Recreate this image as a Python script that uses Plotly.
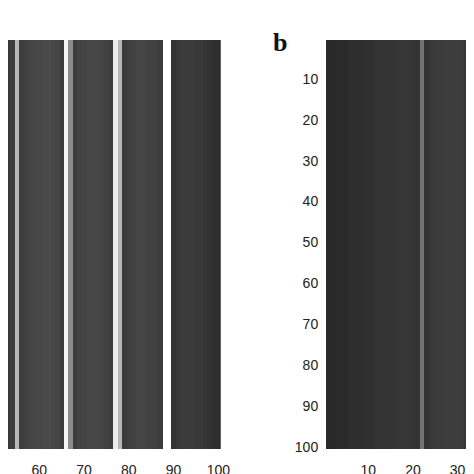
import plotly.graph_objects as go

# panel a: column brightness for columns 53..100 (rows identical)
a_cols = list(range(53, 101))
a_vals = [0.22, 0.24, 0.72, 0.24, 0.26, 0.27, 0.28, 0.28, 0.29, 0.29, 0.28, 0.27, 0.24,
          0.96, 0.55, 0.24, 0.26, 0.27, 0.28, 0.28, 0.28, 0.27, 0.26, 0.24,
          0.93, 0.72, 0.23, 0.25, 0.26, 0.27, 0.27, 0.26, 0.26, 0.25, 0.23,
          1.0, 1.0, 0.2, 0.22, 0.23, 0.23, 0.23, 0.22, 0.22, 0.21, 0.2, 0.19, 0.18]
# panel b: columns 1..35
b_cols = list(range(1, 36))
b_vals = [0.16, 0.16, 0.17, 0.17, 0.17, 0.18, 0.18, 0.18, 0.19, 0.19, 0.19, 0.2, 0.2,
          0.2, 0.2, 0.21, 0.21, 0.21, 0.21, 0.21, 0.2, 0.45, 0.2, 0.22, 0.23, 0.23,
          0.24, 0.24, 0.24, 0.24, 0.23, 0.22, 0.5, 0.22, 0.22]
rows = list(range(1, 101))
xticks_a = [60, 70, 80, 90, 100]
xticks_b = [10, 20, 30]
yticks_b = [10, 20, 30, 40, 50, 60, 70, 80, 90, 100]

cs = [[0, "black"], [1, "white"]]
fig = go.Figure()
fig.add_trace(go.Heatmap(x=a_cols, y=rows, z=[a_vals for _ in rows], colorscale=cs,
                         zmin=0, zmax=1, showscale=False, xaxis="x", yaxis="y"))
fig.add_trace(go.Heatmap(x=b_cols, y=rows, z=[b_vals for _ in rows], colorscale=cs,
                         zmin=0, zmax=1, showscale=False, xaxis="x2", yaxis="y2"))
font = dict(family="Liberation Sans, Arial", size=14, color="#222")
ydom = [1 - 441 / 474, 1 - 32 / 474]
fig.update_layout(
    width=474, height=474, margin=dict(l=0, r=0, t=0, b=0, autoexpand=False),
    paper_bgcolor="white", plot_bgcolor="white", font=font,
    xaxis=dict(domain=[0, 213 / 474], range=[53, 100.6], tickvals=xticks_a,
               showgrid=False, zeroline=False, ticks="outside", ticklen=8,
               tickcolor="white"),
    yaxis=dict(domain=ydom, range=[100.5, 0.5], showticklabels=False,
               showgrid=False, zeroline=False),
    xaxis2=dict(domain=[318 / 474, 1], range=[0.5, 35.5], tickvals=xticks_b,
                showgrid=False, zeroline=False, anchor="y2", ticks="outside",
                ticklen=8, tickcolor="white"),
    yaxis2=dict(domain=ydom, range=[100.5, 0.5], tickvals=yticks_b,
                showgrid=False, zeroline=False, anchor="x2", ticks="outside",
                ticklen=4, tickcolor="white"),
    annotations=[dict(text="<b>b</b>", x=272 / 474, y=1 - 18 / 474, xref="paper",
                      yref="paper", showarrow=False,
                      font=dict(family="Liberation Serif", size=26, color="#111"))],
)
fig.write_html("out.html")
